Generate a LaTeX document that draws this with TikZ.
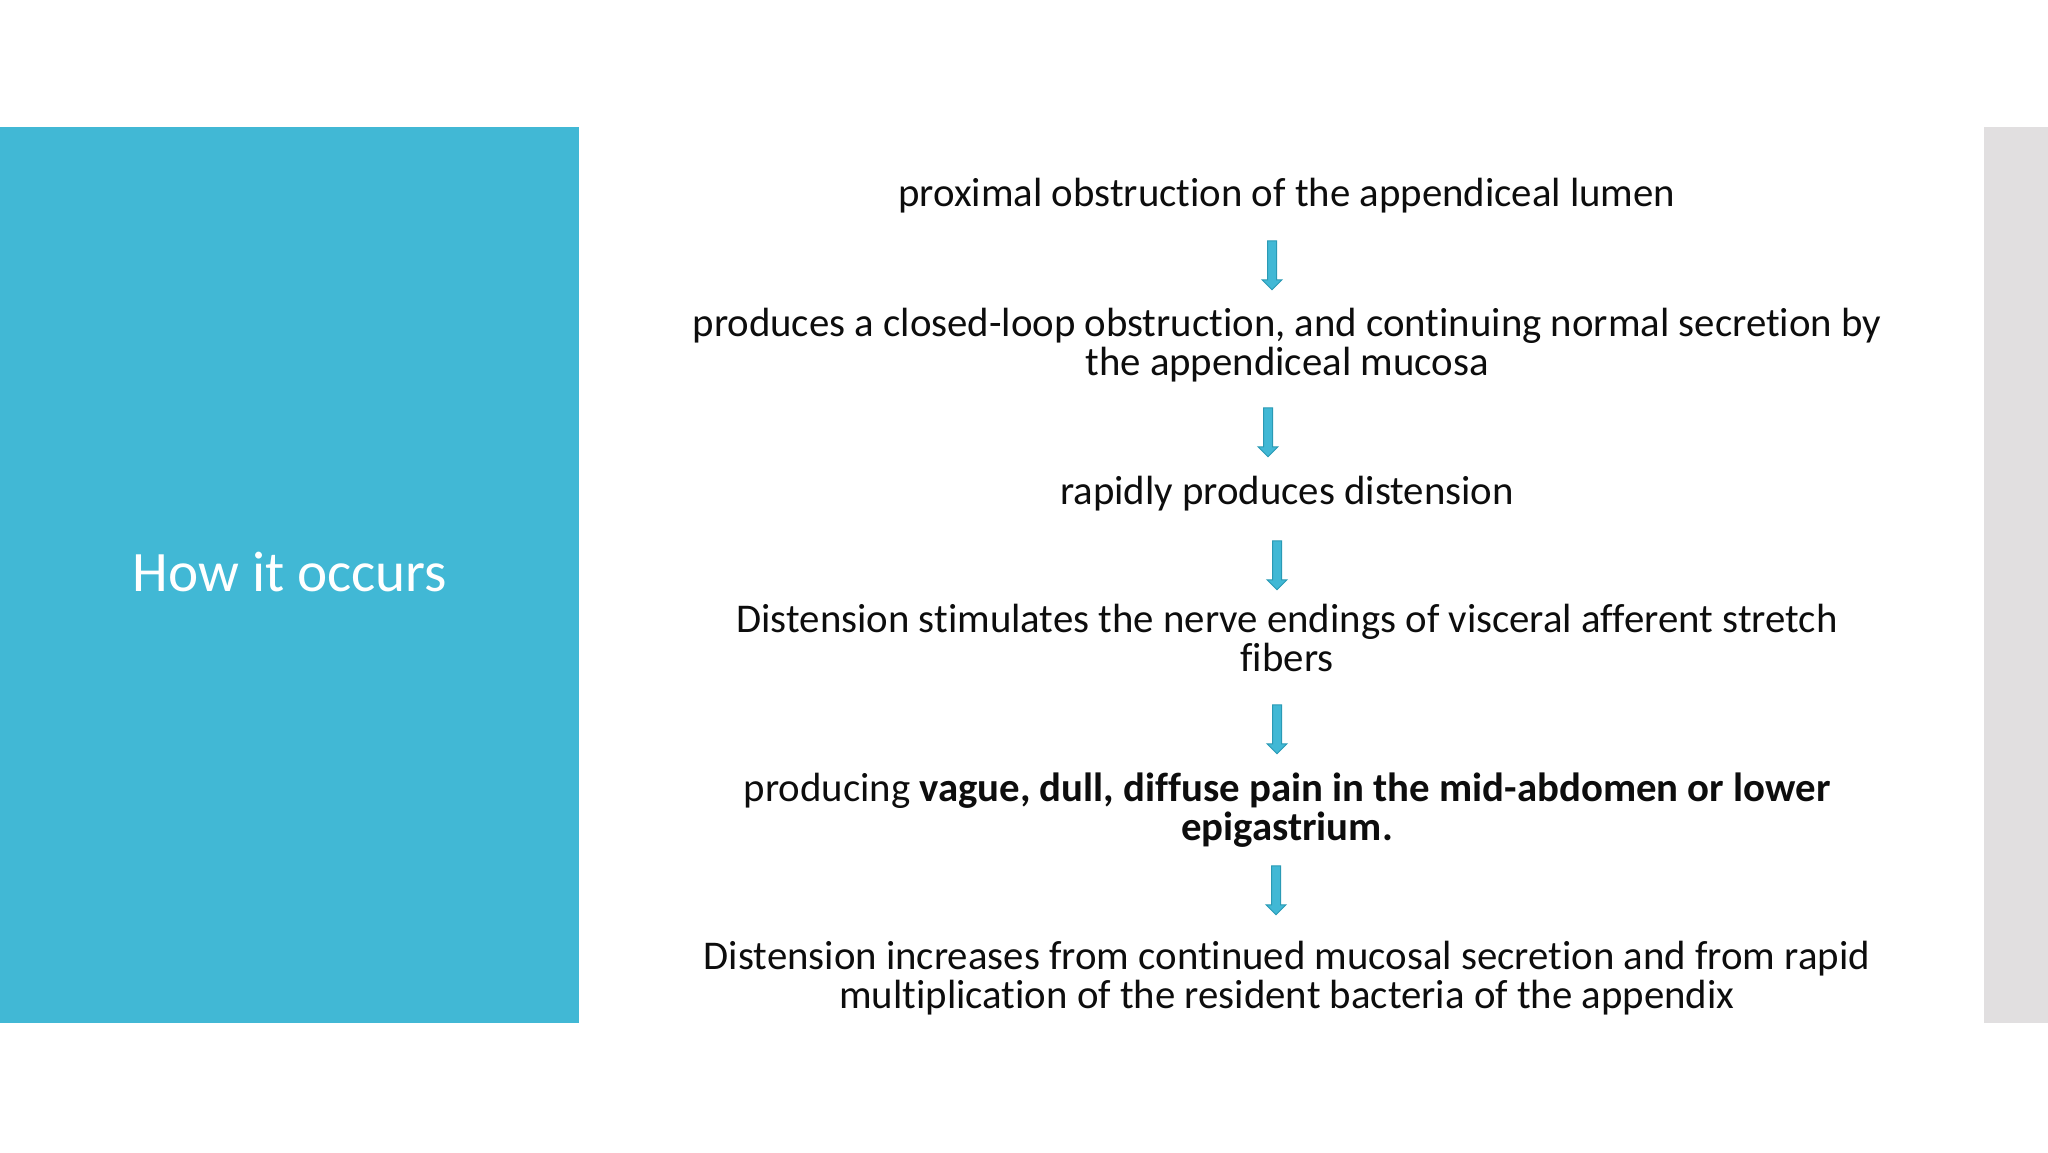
\documentclass[tikz,border=0pt]{standalone}
\usepackage{fontspec}
\setmainfont{Carlito}[Ligatures=NoCommon]
\usetikzlibrary{shapes.arrows}
\definecolor{panel}{HTML}{41B8D5}
\definecolor{arrowline}{HTML}{2A9AB5}
\definecolor{sidebar}{HTML}{E1DFE0}
\definecolor{txt}{HTML}{0D0D0D}
\begin{document}
\begin{tikzpicture}[x=0.5pt,y=-0.5pt,
  steptext/.style={font=\fontsize{20.4}{19.5}\selectfont, align=center, text=txt, inner sep=0pt},
  flowarrow/.style={single arrow, shape border rotate=270, draw=arrowline, fill=panel,
    line width=0.5pt, minimum height=24.5pt, minimum width=9.5pt, inner sep=2pt,
    single arrow head extend=2.75pt, single arrow tip angle=90}]
\useasboundingbox (0,0) rectangle (2048,1152);
\fill[white] (0,0) rectangle (2048,1152);
\fill[panel] (0,127) rectangle (579,1023);
\fill[sidebar] (1984,127) rectangle (2048,1023);
\node[font=\fontsize{28.6}{34}\selectfont, text=white] (title) at (290,572) {How it occurs};
\node[steptext] (n1) at (1287,196) {proximal obstruction of the appendiceal lumen};
\node[steptext] (n2) at (1287,345) {produces a closed-loop obstruction, and continuing normal secretion by\\the appendiceal mucosa};
\node[steptext] (n3) at (1287,494) {rapidly produces distension};
\node[steptext] (n4) at (1287,638) {Distension stimulates the nerve endings of visceral afferent stretch\\fibers};
\node[steptext] (n5) at (1287,810) {producing \textbf{vague, dull, diffuse pain in the mid-abdomen or lower}\\\textbf{epigastrium.}};
\node[steptext] (n6) at (1287,978) {Distension increases from continued mucosal secretion and from rapid\\multiplication of the resident bacteria of the appendix};
\node[flowarrow] (a1) at (1272,263) {};
\node[flowarrow] (a2) at (1268,430) {};
\node[flowarrow] (a3) at (1277,563) {};
\node[flowarrow] (a4) at (1277,727) {};
\node[flowarrow] (a5) at (1276,888) {};
\end{tikzpicture}
\end{document}
